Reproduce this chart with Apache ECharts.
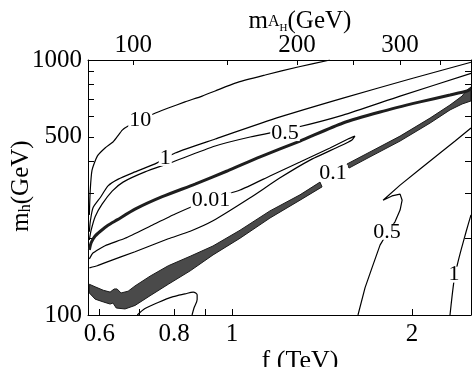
<!DOCTYPE html>
<html><head><meta charset="utf-8">
<script src="https://cdn.jsdelivr.net/npm/echarts@6/dist/echarts.min.js"></script>
<style>html,body{margin:0;padding:0;background:#fff}#c{width:474px;height:367px}</style>
</head><body><div id="c"></div>
<script>
// ---- axes ----
const fRange = [0.574, 2.51];
const mhRange = [100, 1000];
const fTicks = [0.6, 0.7, 0.8, 0.9, 1, 2];
const fTickLabels = [0.6, 0.8, 1, 2];
const mhTicks = [100, 200, 300, 400, 500, 600, 700, 800, 900, 1000];
const mhTickLabels = [100, 500, 1000];
const mAHTicks = [100, 150, 200, 250, 300, 350];
const mAHTickF = [0.683, 0.981, 1.284, 1.594, 1.909, 2.228];
const mAHTickLabels = [100, 200, 300];

// ---- contour lines: [f (TeV), m_h (GeV)] ----
const c10 = [[0.577,247],[0.579,309],[0.583,370],[0.595,420],[0.613,452],[0.632,477],[0.642,499],[0.655,531],[0.670,551],[0.738,614],[0.782,648],[0.834,685],[0.891,722],[0.937,756],[1.012,812],[1.136,873],[1.289,939],[1.458,1000]];
const c1 = [[0.577,212],[0.579,232],[0.585,263],[0.602,289],[0.620,321],[0.645,341],[0.688,364],[0.749,395],[0.803,432],[0.937,490],[1.203,598],[1.533,709],[1.985,842],[2.51,980]];
const c05 = [[0.577,197],[0.581,215],[0.590,243],[0.606,272],[0.630,306],[0.657,332],[0.715,364],[0.788,395],[0.937,460],[1.072,499],[1.289,546],[1.533,608],[1.910,722],[2.51,886]];
const c01Upper = [[0.577,180],[0.581,192],[0.590,204],[0.602,213],[0.620,225],[0.642,236],[0.688,260],[0.764,291],[0.867,326],[0.981,367],[1.114,417],[1.299,481],[1.533,566],[1.768,625],[2.063,685],[2.315,729],[2.472,756],[2.51,770]];
const c001 = [[0.577,166],[0.585,175],[0.613,187],[0.662,200],[0.729,223],[0.803,249],[0.922,285],[1.031,309],[1.157,351],[1.299,398],[1.458,452],[1.563,490],[1.605,503],[1.587,486],[1.516,460],[1.350,405],[1.203,345],[1.072,288],[0.929,234],[0.851,213],[0.782,199],[0.688,177],[0.620,162],[0.595,156],[0.577,153]];
const c05Low = [[2.51,541],[2.361,481],[2.228,432],[2.063,374],[1.910,323],[1.789,282],[1.851,293],[1.910,298],[1.925,282],[1.910,258],[1.873,232],[1.823,212],[1.768,188],[1.714,153],[1.669,128],[1.624,100]];
const c1Low = [[2.51,247],[2.463,212],[2.416,180],[2.379,156],[2.352,137],[2.333,118],[2.315,100]];
const cArch = [[0.694,100],[0.715,106],[0.752,112],[0.797,118],[0.834,121],[0.861,123],[0.874,120],[0.874,115],[0.864,107],[0.857,100]];

// ---- shaded band (0.1 lower branch) ----
const bandLeftUpper = [[0.577,132],[0.590,129],[0.609,125],[0.625,123],[0.635,126.5],[0.642,126.5],[0.652,122],[0.670,124],[0.688,130],[0.729,142],[0.782,156],[0.851,170],[0.929,186.5],[1.031,215],[1.157,256],[1.299,296],[1.403,332]];
const bandLeftLower = [[1.414,318],[1.299,282],[1.157,240],[1.031,200],[0.929,172],[0.851,149],[0.782,132],[0.729,119],[0.688,109],[0.662,105.6],[0.640,106.5],[0.632,111.4],[0.625,110.4],[0.609,112.5],[0.590,115.4],[0.577,122]];
const bandRightUpper = [[1.557,391],[1.701,436],[1.910,503],[2.144,592],[2.315,666],[2.425,722],[2.463,756],[2.51,784]];
const bandRightLower = [[2.51,691],[2.425,672],[2.315,637],[2.144,566],[1.910,481],[1.701,417],[1.569,377]];

// ---- contour labels: [text, f, m_h] ----
const contourLabels = [['10',0.702,582],['1',0.773,413],['0.5',1.226,517],['0.01',0.922,282],['0.1',1.475,361],['0.5',1.816,212],['1',2.352,144]];

const LN = Math.log10;
const toLog = arr => arr.map(p => [LN(p[0]), LN(p[1])]);
const FONT = 'Liberation Serif';
const bands = [bandLeftUpper.concat(bandLeftLower), bandRightUpper.concat(bandRightLower)];

function lookup(v, vals, labels) {
  for (let i = 0; i < vals.length; i++) if (Math.abs(LN(vals[i]) - v) < 1e-6) return String(labels[i]);
  return '';
}
function lineSeries(data, width, color, smooth) {
  return { type: 'line', data: toLog(data), showSymbol: false, symbol: 'none', silent: true, smooth: smooth || 0,
    lineStyle: { color: color || '#000', width: width || 1.2 }, z: 2, xAxisIndex: 0, yAxisIndex: 0 };
}

const chart = echarts.init(document.getElementById('c'), null, { renderer: 'canvas' });
const axisLine = { show: true, onZero: false, lineStyle: { color: '#000', width: 1 } };
const option = {
  animation: false,
  backgroundColor: '#fff',
  grid: { left: 88, right: 3, top: 60, bottom: 52, containLabel: false, outerBoundsMode: 'none' },
  xAxis: [
    { type: 'value', position: 'bottom', min: LN(fRange[0]), max: LN(fRange[1]),
      axisLine: axisLine, splitLine: { show: false },
      axisTick: { inside: true, length: 6, customValues: fTicks.map(LN), lineStyle: { color: '#000' } },
      axisLabel: { customValues: fTickLabels.map(LN), formatter: v => lookup(v, fTickLabels, fTickLabels),
        fontFamily: FONT, fontSize: 25, color: '#000', margin: 7 } },
    { type: 'value', position: 'top', min: LN(fRange[0]), max: LN(fRange[1]),
      axisLine: axisLine, splitLine: { show: false },
      axisTick: { inside: true, length: 5, customValues: mAHTickF.map(LN), lineStyle: { color: '#000' } },
      axisLabel: { customValues: [0, 2, 4].map(i => LN(mAHTickF[i])),
        formatter: v => { const i = mAHTickF.findIndex(f => Math.abs(LN(f) - v) < 1e-6); return i >= 0 ? String(mAHTicks[i]) : ''; },
        fontFamily: FONT, fontSize: 25, color: '#000', margin: 2 } }
  ],
  yAxis: [
    { type: 'value', position: 'left', min: LN(mhRange[0]), max: LN(mhRange[1]),
      axisLine: axisLine, splitLine: { show: false },
      axisTick: { inside: true, length: 6, customValues: mhTicks.map(LN), lineStyle: { color: '#000' } },
      axisLabel: { customValues: mhTickLabels.map(LN), formatter: v => lookup(v, mhTickLabels, mhTickLabels),
        fontFamily: FONT, fontSize: 25, color: '#000', margin: 6 } },
    { type: 'value', position: 'right', min: LN(mhRange[0]), max: LN(mhRange[1]),
      axisLine: axisLine, splitLine: { show: false },
      axisTick: { inside: true, length: 6, customValues: mhTicks.map(LN), lineStyle: { color: '#000' } },
      axisLabel: { show: false } }
  ],
  graphic: [
    { type: 'text', x: 300, y: 21, z: 50,
      style: { text: '{m|m}{a|A}{h|H}{m|(GeV)}', textAlign: 'center', textVerticalAlign: 'middle', align: 'center', verticalAlign: 'middle',
        rich: { m: { fontFamily: FONT, fontSize: 25, lineHeight: 25, padding: [0,0,8,0], verticalAlign: 'top', fill: '#000', color: '#000' },
                a: { fontFamily: FONT, fontSize: 16, lineHeight: 16, padding: [0,0,4,0], verticalAlign: 'bottom', fill: '#000', color: '#000' },
                h: { fontFamily: FONT, fontSize: 11, lineHeight: 11, verticalAlign: 'bottom', fill: '#000', color: '#000' } } } },
    { type: 'text', x: 21, y: 186, rotation: Math.PI / 2, z: 50,
      style: { text: '{m|m}{s|h}{m|(GeV)}', textAlign: 'center', textVerticalAlign: 'middle', align: 'center', verticalAlign: 'middle',
        rich: { m: { fontFamily: FONT, fontSize: 25, lineHeight: 25, padding: [0,0,5,0], verticalAlign: 'top', fill: '#000', color: '#000' },
                s: { fontFamily: FONT, fontSize: 16, lineHeight: 16, verticalAlign: 'bottom', fill: '#000', color: '#000' } } } },
    { type: 'text', x: 300, y: 361, z: 50,
      style: { text: 'f (TeV)', fontFamily: FONT, fontSize: 26, fill: '#000', textAlign: 'center', textVerticalAlign: 'middle', align: 'center', verticalAlign: 'middle' } }
  ],
  series: [
    lineSeries(c10, 1.2, '#000', 0.2),
    lineSeries(c1, 1.2, '#000', 0.2),
    lineSeries(c05, 1.2, '#000', 0.2),
    lineSeries(c001, 1.2, '#000', 0.15),
    lineSeries(c05Low, 1.2, '#000', 0),
    lineSeries(c1Low, 1.2, '#000', 0.2),
    lineSeries(cArch, 1.2, '#000', 0.3),
    Object.assign(lineSeries(c01Upper, 3, '#1e1e1e', 0.2), { z: 4 }),
    { type: 'custom', xAxisIndex: 0, yAxisIndex: 0, z: 3, silent: true, clip: true,
      data: bands.map((b, i) => [LN(b[0][0]), LN(b[0][1]), i]),
      renderItem: (params, api) => {
        const poly = bands[params.dataIndex];
        return { type: 'polygon', shape: { points: poly.map(p => api.coord([LN(p[0]), LN(p[1])])) },
          style: { fill: '#4a4a4a', stroke: '#1a1a1a', lineWidth: 1 } };
      } },
    { type: 'scatter', z: 20, silent: true, symbolSize: 1, itemStyle: { color: 'rgba(255,255,255,0)' },
      data: contourLabels.map(l => ({ value: [LN(l[1]), LN(l[2])], name: l[0] })),
      label: { show: true, position: 'inside', formatter: p => p.name, fontFamily: FONT, fontSize: 22, color: '#000',
        opacity: 1, textBorderWidth: 0, textBorderColor: 'transparent', textShadowBlur: 0,
        backgroundColor: '#fff', padding: [0, 1], lineHeight: 16 } }
  ]
};
chart.setOption(option);
</script></body></html>
